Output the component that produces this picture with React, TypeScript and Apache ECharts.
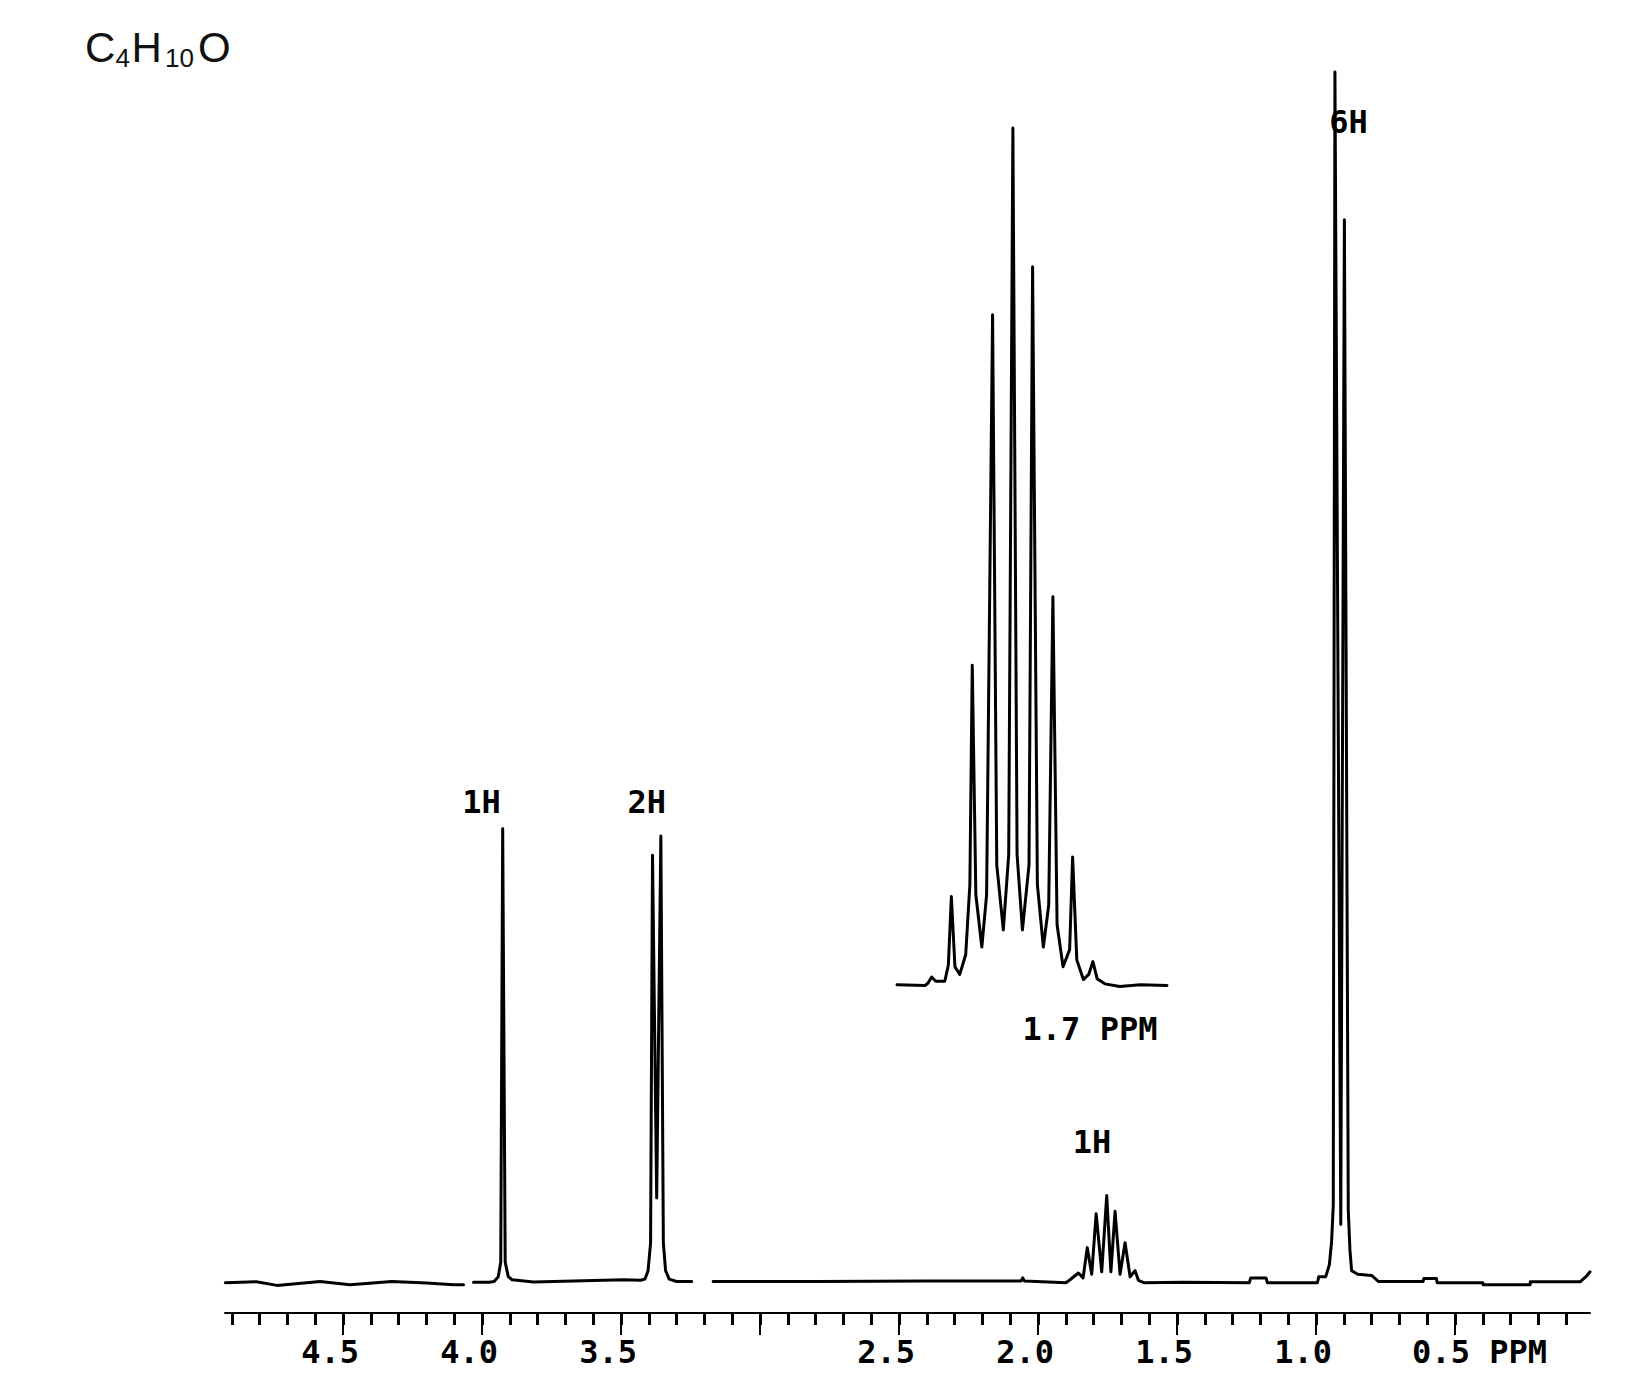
import React, { useEffect, useRef } from "react";
import * as echarts from "echarts";

// Main 1H NMR trace: [chemical shift (ppm), intensity (% of tallest line)]; null = pen lifted
const MAIN_SPECTRUM: [number, number | null][] = [
  [4.924, 0.0], [4.812, 0.08], [4.738, -0.22], [4.583, 0.11], [4.475, -0.17],
  [4.325, 0.11], [4.199, -0.03], [4.103, -0.17], [4.067, -0.17], [4.05, null],
  [4.031, 0.04], [3.975, 0.04],
  [3.957, 0.1], [3.942, 0.5], [3.933, 1.7], [3.926, 37.5], [3.917, 1.7], [3.906, 0.5], [3.892, 0.25],
  [3.815, 0.06], [3.492, 0.25], [3.43, 0.2],
  [3.414, 0.3], [3.403, 1.0], [3.394, 3.3], [3.387, 35.3], [3.372, 7.0], [3.357, 36.9],
  [3.348, 3.3], [3.34, 1.0], [3.327, 0.3], [3.3, 0.1], [3.246, 0.1], [3.2, null],
  [3.169, 0.1], [2.8, 0.1], [2.4, 0.15], [2.061, 0.15], [2.055, 0.4], [2.049, 0.15],
  [1.9, 0.0], [1.885, 0.25],
  [1.855, 0.8], [1.838, 0.4], [1.823, 2.9], [1.807, 0.7], [1.791, 5.7], [1.771, 0.9],
  [1.753, 7.2], [1.738, 0.9], [1.723, 5.9], [1.705, 0.7], [1.687, 3.3], [1.669, 0.5],
  [1.651, 1.0], [1.639, 0.2], [1.62, 0.0],
  [1.478, 0.05], [1.24, 0.0], [1.235, 0.4], [1.18, 0.4], [1.175, 0.0], [0.995, 0.0],
  [0.99, 0.5], [0.965, 0.5],
  [0.952, 1.5], [0.944, 3.4], [0.938, 6.4], [0.932, 100], [0.911, 4.8], [0.898, 87.8],
  [0.884, 6.0], [0.878, 2.7], [0.872, 1.0], [0.85, 0.7], [0.8, 0.6], [0.775, 0.1],
  [0.615, 0.1], [0.612, 0.35], [0.567, 0.35], [0.564, 0.0], [0.4, 0.0], [0.399, -0.17],
  [0.23, -0.17], [0.229, 0.08], [0.05, 0.08], [0.029, 0.5], [0.0144, 0.9],
];

// Expanded 1.7 ppm multiplet (inset): [ppm, intensity % of inset's tallest line]
const INSET_SPECTRUM: [number, number][] = [
  [1.947, 0.0], [1.9, -0.1], [1.895, 0.2], [1.889, 0.9], [1.882, 0.4], [1.867, 0.4],
  [1.861, 2.3], [1.856, 10.3], [1.85, 2.1], [1.842, 1.2], [1.832, 3.5], [1.825, 11.7],
  [1.821, 37.3], [1.815, 10.5], [1.805, 4.4], [1.797, 10.5], [1.787, 78.2], [1.78, 14.0],
  [1.769, 6.4], [1.76, 15.2], [1.753, 100], [1.746, 15.2], [1.737, 6.4], [1.726, 14.0],
  [1.72, 83.8], [1.712, 11.7], [1.702, 4.4], [1.693, 9.3], [1.686, 45.3], [1.679, 7.0],
  [1.669, 2.1], [1.658, 4.1], [1.653, 14.9], [1.646, 2.9], [1.635, 0.6], [1.626, 1.2],
  [1.619, 2.7], [1.612, 0.7], [1.599, 0.1], [1.574, -0.2], [1.54, 0.0], [1.495, -0.1],
];

const MINOR_TICKS = [
  4.9, 4.8, 4.7, 4.6, 4.5, 4.4, 4.3, 4.2, 4.1, 4.0,
  3.9, 3.8, 3.7, 3.6, 3.5, 3.4, 3.3, 3.2, 3.1, 3.0,
  2.9, 2.8, 2.7, 2.6, 2.5, 2.4, 2.3, 2.2, 2.1, 2.0,
  1.9, 1.8, 1.7, 1.6, 1.5, 1.4, 1.3, 1.2, 1.1, 1.0,
  0.9, 0.8, 0.7, 0.6, 0.5, 0.4, 0.3, 0.2, 0.1,
];
const MAJOR_TICKS = [4.5, 4.0, 3.5, 3.0, 2.5, 2.0, 1.5, 1.0, 0.5];
const MAJOR_LABELS = ["4.5", "4.0", "3.5", "", "2.5", "2.0", "1.5", "1.0", "0.5 PPM"];

// Integration annotations anchored in data space [ppm, intensity]
const PEAK_LABELS = [
  { text: "1H", ppm: 4.002, value: 39.7 },
  { text: "2H", ppm: 3.408, value: 39.7 },
  { text: "1H", ppm: 1.806, value: 11.6 },
  { text: "6H", ppm: 0.883, value: 95.9 },
];
const INSET_LABEL = "1.7 PPM";

const MONO = "'DejaVu Sans Mono', 'Liberation Mono', monospace";
const SANS = "'Liberation Sans', Arial, sans-serif";

export default function App() {
  const ref = useRef<HTMLDivElement>(null);
  useEffect(() => {
    document.body.style.margin = "0";
    if (!ref.current) return;
    const chart = echarts.init(ref.current, null, { renderer: "svg" });
    const axisMin = 0.0144;
    const axisMax = 4.925;
    chart.setOption({
      animation: false,
      backgroundColor: "#ffffff",
      grid: [
        { left: 225, top: 72, width: 1365, height: 1241 },
        { left: 897, top: 128, width: 270, height: 867 },
      ],
      xAxis: [
        {
          type: "value", gridIndex: 0, inverse: true, min: axisMin, max: axisMax,
          position: "bottom",
          axisLine: { show: true, onZero: false, lineStyle: { color: "#000", width: 2 } },
          axisTick: { show: true, customValues: MINOR_TICKS, length: 12, lineStyle: { color: "#000", width: 3 } },
          axisLabel: { show: false },
          splitLine: { show: false },
        },
        {
          type: "value", gridIndex: 0, inverse: true, min: axisMin, max: axisMax,
          position: "bottom",
          axisLine: { show: false, onZero: false },
          axisTick: { show: true, customValues: MAJOR_TICKS, length: 22, lineStyle: { color: "#000", width: 2 } },
          axisLabel: {
            show: true,
            customValues: MAJOR_TICKS,
            interval: 0,
            margin: 23,
            padding: [0, 26, 0, 0],
            color: "#000",
            fontFamily: MONO,
            fontWeight: "bold",
            fontSize: 32,
            formatter: (v: number) => {
              const i = MAJOR_TICKS.findIndex((t) => Math.abs(t - v) < 1e-6);
              const s = i >= 0 ? MAJOR_LABELS[i] : "";
              if (s.indexOf("PPM") >= 0) return "{u|" + s + "}";
              return s;
            },
            rich: {
              u: {
                padding: [0, 0, 0, 75],
                color: "#000",
                fontFamily: MONO,
                fontWeight: "bold",
                fontSize: 32,
              },
            },
          },
          splitLine: { show: false },
        },
        {
          type: "value", gridIndex: 1, inverse: true, min: 1.495, max: 1.947, show: false,
        },
      ],
      yAxis: [
        { type: "value", gridIndex: 0, min: -2.5, max: 100, show: false },
        { type: "value", gridIndex: 1, min: -1.2, max: 100, show: false },
      ],
      series: [
        {
          type: "line",
          xAxisIndex: 0, yAxisIndex: 0,
          data: MAIN_SPECTRUM,
          showSymbol: false, symbol: "none",
          connectNulls: false,
          clip: false,
          lineStyle: { color: "#000", width: 3, join: "round", cap: "round" },
          z: 2,
        },
        {
          type: "line",
          xAxisIndex: 2, yAxisIndex: 1,
          data: INSET_SPECTRUM,
          showSymbol: false, symbol: "none",
          clip: false,
          lineStyle: { color: "#000", width: 3, join: "round", cap: "round" },
          z: 2,
        },
        {
          type: "scatter",
          xAxisIndex: 0, yAxisIndex: 0,
          symbolSize: 0,
          itemStyle: { color: "#000" },
          data: PEAK_LABELS.map((p) => ({ name: p.text, value: [p.ppm, p.value] })),
          label: {
            show: true,
            position: "inside",
            formatter: (p: any) => p.name,
            color: "#000",
            textBorderWidth: 0,
            textBorderColor: "transparent",
            opacity: 1,
            fontFamily: MONO,
            fontWeight: "bold",
            fontSize: 32,
          },
          emphasis: { disabled: true },
          z: 3,
        },
      ],
      graphic: [
        { type: "text", x: 85, y: 47, style: { text: "C", fontFamily: SANS, fontSize: 42, fill: "#111", verticalAlign: "middle" } },
        { type: "text", x: 115.5, y: 57.5, style: { text: "4", fontFamily: SANS, fontSize: 26, fill: "#111", verticalAlign: "middle" } },
        { type: "text", x: 131.5, y: 47, style: { text: "H", fontFamily: SANS, fontSize: 42, fill: "#111", verticalAlign: "middle" } },
        { type: "text", x: 165, y: 57.5, style: { text: "10", fontFamily: SANS, fontSize: 26, fill: "#111", verticalAlign: "middle" } },
        { type: "text", x: 198, y: 47, style: { text: "O", fontFamily: SANS, fontSize: 42, fill: "#111", verticalAlign: "middle" } },
        {
          type: "text", x: 1090, y: 1029,
          style: { text: INSET_LABEL, fontFamily: MONO, fontWeight: "bold", fontSize: 32, fill: "#000", align: "center", verticalAlign: "middle" },
        },
      ],
    });
    return () => chart.dispose();
  }, []);
  return <div ref={ref} style={{ width: 1650, height: 1395 }} />;
}
